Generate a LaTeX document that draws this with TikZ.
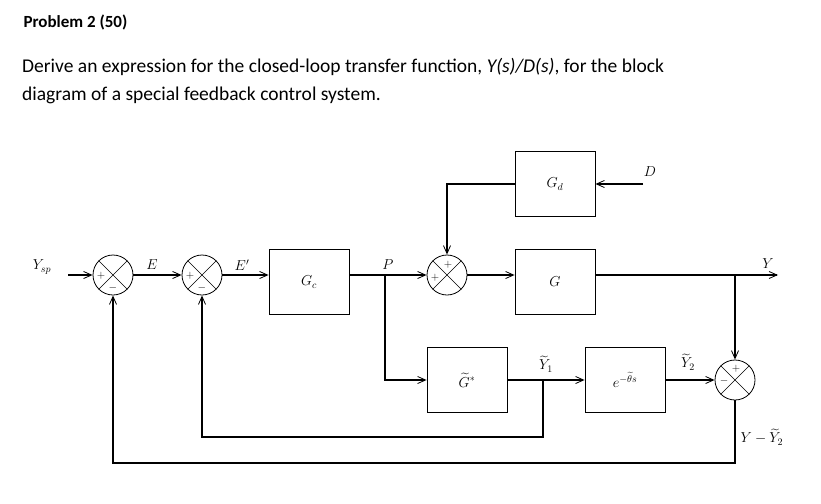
\documentclass[tikz,border=0pt]{standalone}
\usepackage{fontspec}
\usepackage{amsmath}
\newfontfamily\carl{Carlito}
\usetikzlibrary{arrows.meta}
\begin{document}
\begin{tikzpicture}[x=1pt,y=-1pt,
  blk/.style={draw,line width=0.8pt,minimum width=80pt,minimum height=65pt,inner sep=0,font=\fontsize{14}{16}\selectfont},
  sj/.style={draw,circle,line width=0.8pt,minimum size=40pt,inner sep=0,path picture={\draw[line width=0.6pt] (path picture bounding box.north west)--(path picture bounding box.south east) (path picture bounding box.south west)--(path picture bounding box.north east);}},
  ln/.style={line width=1.6pt},
  ar/.style={ln,-{Straight Barb[length=8pt,width=7pt,line width=0.8pt]}},
  lab/.style={font=\fontsize{14}{16}\selectfont},
  sg/.style={font=\fontsize{11}{12}\selectfont,inner sep=0}]
\useasboundingbox (0,0) rectangle (821,503);
\node[anchor=west,font=\carl\bfseries\fontsize{17}{20}\selectfont] (t) at (20,22) {Problem 2 (50)};
\node[anchor=north west,align=left,font=\carl\fontsize{19.5}{28}\selectfont,inner sep=0] (b) at (22,58) {Derive an expression for the closed-loop transfer function, \textit{Y(s)/D(s)}, for the block\\diagram of a special feedback control system.};
\node[sj] (s1) at (113,275) {};
\node[sj] (s2) at (202,275) {};
\node[sj] (s3) at (447,275) {};
\node[sj] (s4) at (735,380) {};
\node[sg] at (101,276) {+}; \node[sg] at (113,288) {$-$};
\node[sg] at (190,276) {+}; \node[sg] at (202,288) {$-$};
\node[sg] at (435,278) {+}; \node[sg] at (448,265) {+};
\node[sg] at (724,381) {$-$}; \node[sg] at (736,369) {+};
\node[blk] (gc) at (309,282) {$G_c$};
\node[blk] (gd) at (555,184) {$G_d$};
\node[blk] (g) at (555,282) {$G$};
\node[blk] (gs) at (467,380) {$\widetilde{G}^*$};
\node[blk] (ex) at (625,380) {$e^{-\widetilde{\theta}s}$};
\coordinate (in) at (68,275);
\coordinate (p) at (385,275);
\coordinate (yb) at (735,275);
\coordinate (yo) at (778,275);
\coordinate (y1) at (543,380);
\coordinate (dd) at (643,184);
\draw[ar] (in) -- (s1);
\draw[ar] (s1) -- (s2);
\draw[ar] (s2) -- (gc.west|-s2);
\draw[ln] (gc.east|-p) -- (p);
\draw[ar] (p) -- (s3);
\draw[ar] (s3) -- (g.west|-s3);
\draw[ar] (g.east|-yb) -- (yo);
\draw[ar] (yb) -- (s4);
\draw[ar] (dd) -- (gd.east|-dd);
\draw[ar] (gd.west|-dd) -| (s3);
\draw[ar] (p) |- (gs);
\draw[ar] (gs) -- (ex);
\draw[ar] (ex) -- (s4);
\draw[ar] (y1) -- ++(0,57) -| (s2);
\draw[ar] (s4) -- ++(0,83) -| (s1);
\node[lab] at (42,267) {$Y_{sp}$};
\node[lab] at (152,265) {$E$};
\node[lab] at (242,265) {$E'$};
\node[lab] at (388,265) {$P$};
\node[lab] at (768,264) {$Y$};
\node[lab] at (650,172) {$D$};
\node[lab] at (546,364) {$\widetilde{Y}_1$};
\node[lab] at (688,362) {$\widetilde{Y}_2$};
\node[lab,anchor=west] at (737,437) {$Y-\widetilde{Y}_2$};
\end{tikzpicture}
\end{document}
